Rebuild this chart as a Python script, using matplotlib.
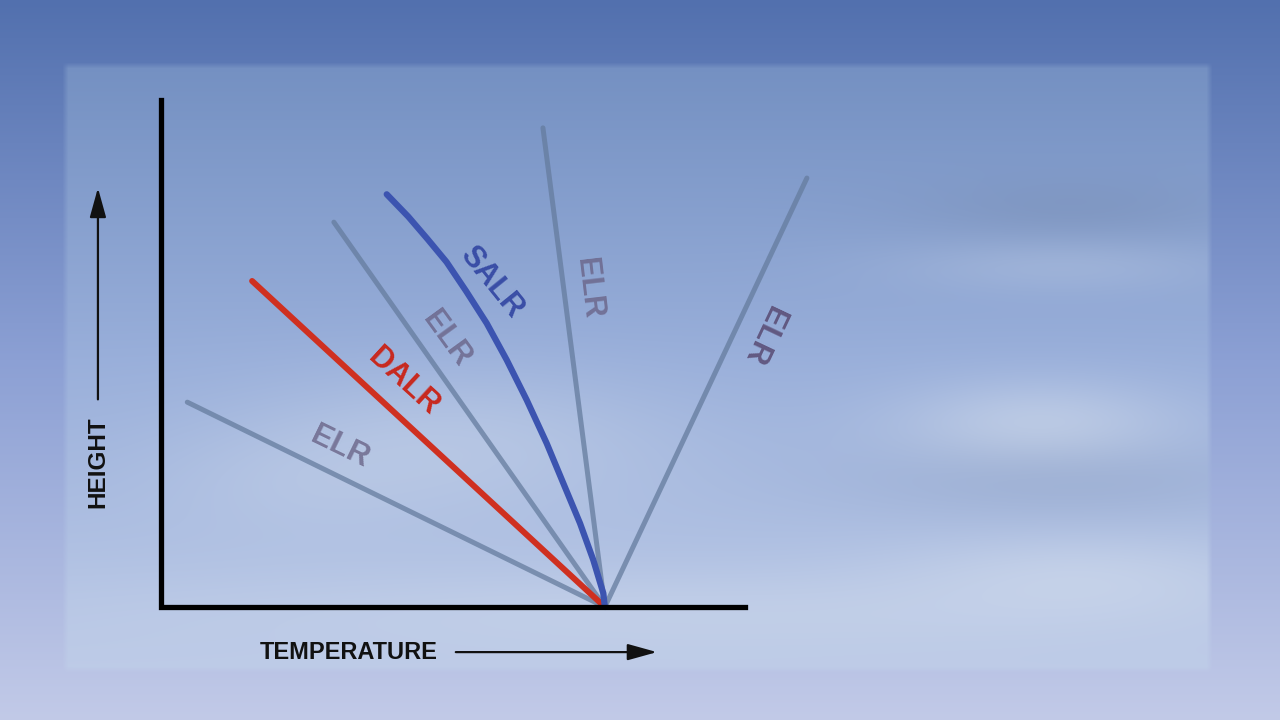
import numpy as np
import matplotlib; matplotlib.use('Agg')
import matplotlib.pyplot as plt

# --- données (repère : température en x, altitude en y, axe = 0..100) ---
axis_x=[0,0,100]; axis_y=[100,0,0]
origin=(76.0,0.0)
elr_top_x=[4.5,29.6,65.4,110.6]
elr_top_y=[40.4,75.9,94.5,84.6]
dalr_top=(15.6,64.3)
salr_x=[38.65,42.35,45.63,48.89,52.23,55.77,59.20,62.62,66.04,68.89,71.75,74.02,75.74,76.0]
salr_y=[81.40,76.98,72.58,68.05,62.33,55.96,48.72,40.83,32.29,24.40,16.51,9.27,2.70,0.0]

labels=['SALR','ELR','DALR','ELR','ELR','ELR']
label_x=[56.5,48.9,41.5,30.7,73.2,103.1]
label_y=[64.0,52.9,44.4,31.6,62.9,53.6]
label_rot=[-51,-54,-42.5,-26,-83.3,-115.3]
label_col=['#3a4ea6','#6a6488','#c8281e','#6a6488','#6a6488','#584a72']
label_alpha=[1,0.8,1,0.8,0.8,0.85]

xlim=(-27.57,191.61); ylim=(-22.29,119.72)

# --- fond : dégradé ciel + panneau translucide + nuages flous ---
H,W=720,1280
yy,xx=np.mgrid[0:H,0:W].astype(float)
ys=[0,360,720]
stops=np.array([[82,112,174],[140,160,212],[194,202,232]],float)
img=np.stack([np.interp(yy,ys,stops[:,k]) for k in range(3)],axis=-1)
def soft(a,lo,hi,w): return np.clip((a-lo)/w,0,1)*np.clip((hi-a)/w,0,1)
panel=soft(xx,62,1212,6)*soft(yy,62,672,6)
pcol=np.array([200,228,240])
img=img*(1-0.22*panel[...,None])+pcol*0.22*panel[...,None]
light=np.array([222,230,240]); dark=np.array([115,135,170])
clouds=[(1040,425,100,32,0.45,light),(1060,480,140,30,0.2,dark),
        (1080,575,130,30,0.35,light),(1070,210,110,25,0.3,dark),
        (1060,265,120,20,0.2,light),(460,440,150,50,0.3,light),
        (700,610,400,30,0.25,light),(300,480,100,40,0.15,light)]
for cx,cy,sx,sy,s,col in clouds:
    g=s*np.exp(-((xx-cx)**2/(2*sx**2)+(yy-cy)**2/(2*sy**2)))*panel
    img=img*(1-g[...,None])+col*g[...,None]
img=np.clip(img/255,0,1)

fig=plt.figure(figsize=(12.8,7.2),dpi=100)
ax=fig.add_axes([0,0,1,1])
ax.imshow(img,extent=(xlim[0],xlim[1],ylim[0],ylim[1]),aspect='auto',zorder=0,interpolation='bilinear')
ax.set_xlim(xlim); ax.set_ylim(ylim); ax.axis('off')

for ex,ey in zip(elr_top_x,elr_top_y):
    ax.plot([ex,origin[0]],[ey,origin[1]],color='#657c9e',lw=3.6,alpha=0.75,solid_capstyle='round',zorder=2)
ax.plot([dalr_top[0],origin[0]],[dalr_top[1],origin[1]],color='#cf3020',lw=4.3,solid_capstyle='round',zorder=3)
ax.plot(salr_x,salr_y,color='#3c54b0',lw=4.5,solid_capstyle='round',solid_joinstyle='round',zorder=3)
ax.plot(axis_x,axis_y,color='black',lw=3.8,solid_joinstyle='miter',zorder=4)

for s,x,y,r,c,a in zip(labels,label_x,label_y,label_rot,label_col,label_alpha):
    ax.text(x,y,s,rotation=r,color=c,alpha=a,fontsize=22,fontweight='bold',family='Liberation Sans',
            ha='center',va='center',rotation_mode='anchor',zorder=5)

arrow=dict(arrowstyle='-|>,head_length=0.9,head_width=0.25',lw=1.6,color='#111111',mutation_scale=20)
ax.text(-10.8,28.6,'HEIGHT',rotation=90,fontsize=17.5,fontweight='bold',family='Liberation Sans',
        ha='center',va='center',color='#111111',zorder=5)
ax.annotate('',xy=(-10.8,83.2),xytext=(-10.8,40.4),arrowprops=arrow,zorder=5)
ax.text(16.95,-9.07,'TEMPERATURE',fontsize=17,fontweight='bold',family='Liberation Sans',
        ha='left',va='center',color='#111111',zorder=5)
ax.annotate('',xy=(85.4,-8.9),xytext=(50.0,-8.9),arrowprops=arrow,zorder=5)

fig.savefig('out.png',dpi=100)
plt.close(fig)
